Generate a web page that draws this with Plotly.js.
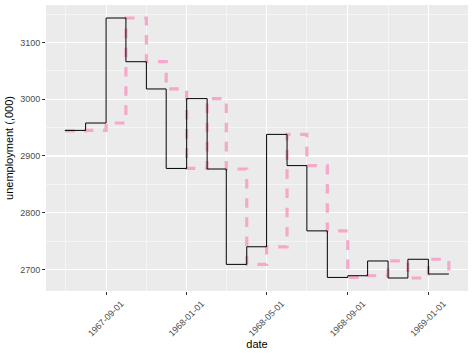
<!DOCTYPE html>
<html><head><meta charset="utf-8">
<script src="https://cdn.plot.ly/plotly-3.0.1.min.js"></script>
<style>html,body{margin:0;padding:0;background:#fff;}#chart{width:474px;height:355px;}</style>
</head><body><div id="chart"></div>
<script>
const dates = ["1967-07-01","1967-08-01","1967-09-01","1967-10-01","1967-11-01","1967-12-01","1968-01-01","1968-02-01","1968-03-01","1968-04-01","1968-05-01","1968-06-01","1968-07-01","1968-08-01","1968-09-01","1968-10-01","1968-11-01","1968-12-01","1969-01-01","1969-02-01"];
const unemploy = [2944,2945,2958,3143,3066,3018,2878,3001,2877,2709,2740,2938,2883,2768,2686,2689,2715,2685,2718,2692];
const xTicks = ["1967-09-01","1968-01-01","1968-05-01","1968-09-01","1969-01-01"];
const yTicks = [2700,2800,2900,3000,3100];

const traces = [
  {x: dates, y: unemploy, type:'scatter', mode:'lines', line:{shape:'hv', color:'#F5A8CB', width:3.2, dash:'dash'}, hoverinfo:'skip'},
  {x: dates, y: unemploy, type:'scatter', mode:'lines', line:{shape:'vh', color:'#000000', width:1}, hoverinfo:'skip'}
];
const layout = {
  width:474, height:355,
  margin:{l:46, r:6, t:5, b:64},
  paper_bgcolor:'#ffffff', plot_bgcolor:'#EBEBEB',
  showlegend:false,
  font:{family:'Liberation Sans, Arial, sans-serif'},
  xaxis:{
    type:'date', range:['1967-06-02','1969-03-02'],
    tickvals: xTicks, ticktext: xTicks, tickangle:-45,
    tickfont:{size:9, color:'#4D4D4D'},
    ticklabelshift:15,
    ticks:'outside', ticklen:3, tickcolor:'#333333', tickwidth:1,
    showgrid:true, gridcolor:'#ffffff', gridwidth:1.1,
    minor:{tickvals:["1967-07-01","1967-11-01","1968-03-01","1968-07-01","1968-11-01","1969-03-01"], showgrid:true, gridcolor:'#ffffff', gridwidth:0.5, ticks:''},
    zeroline:false, showline:false,
    title:{text:'date', font:{size:11, color:'#000000'}, standoff:2}
  },
  yaxis:{
    range:[2662.1, 3165.9],
    tickvals: yTicks, ticktext: yTicks.map(String),
    tickfont:{size:9, color:'#4D4D4D'},
    ticks:'outside', ticklen:3, tickcolor:'#333333', tickwidth:1,
    showgrid:true, gridcolor:'#ffffff', gridwidth:1.1,
    minor:{tickvals:[2650,2750,2850,2950,3050,3150], showgrid:true, gridcolor:'#ffffff', gridwidth:0.5, ticks:''},
    zeroline:false, showline:false,
    title:{text:'unemployment (,000)', font:{size:11, color:'#000000'}, standoff:4}
  }
};
Plotly.newPlot('chart', traces, layout, {staticPlot:true});
</script></body></html>
